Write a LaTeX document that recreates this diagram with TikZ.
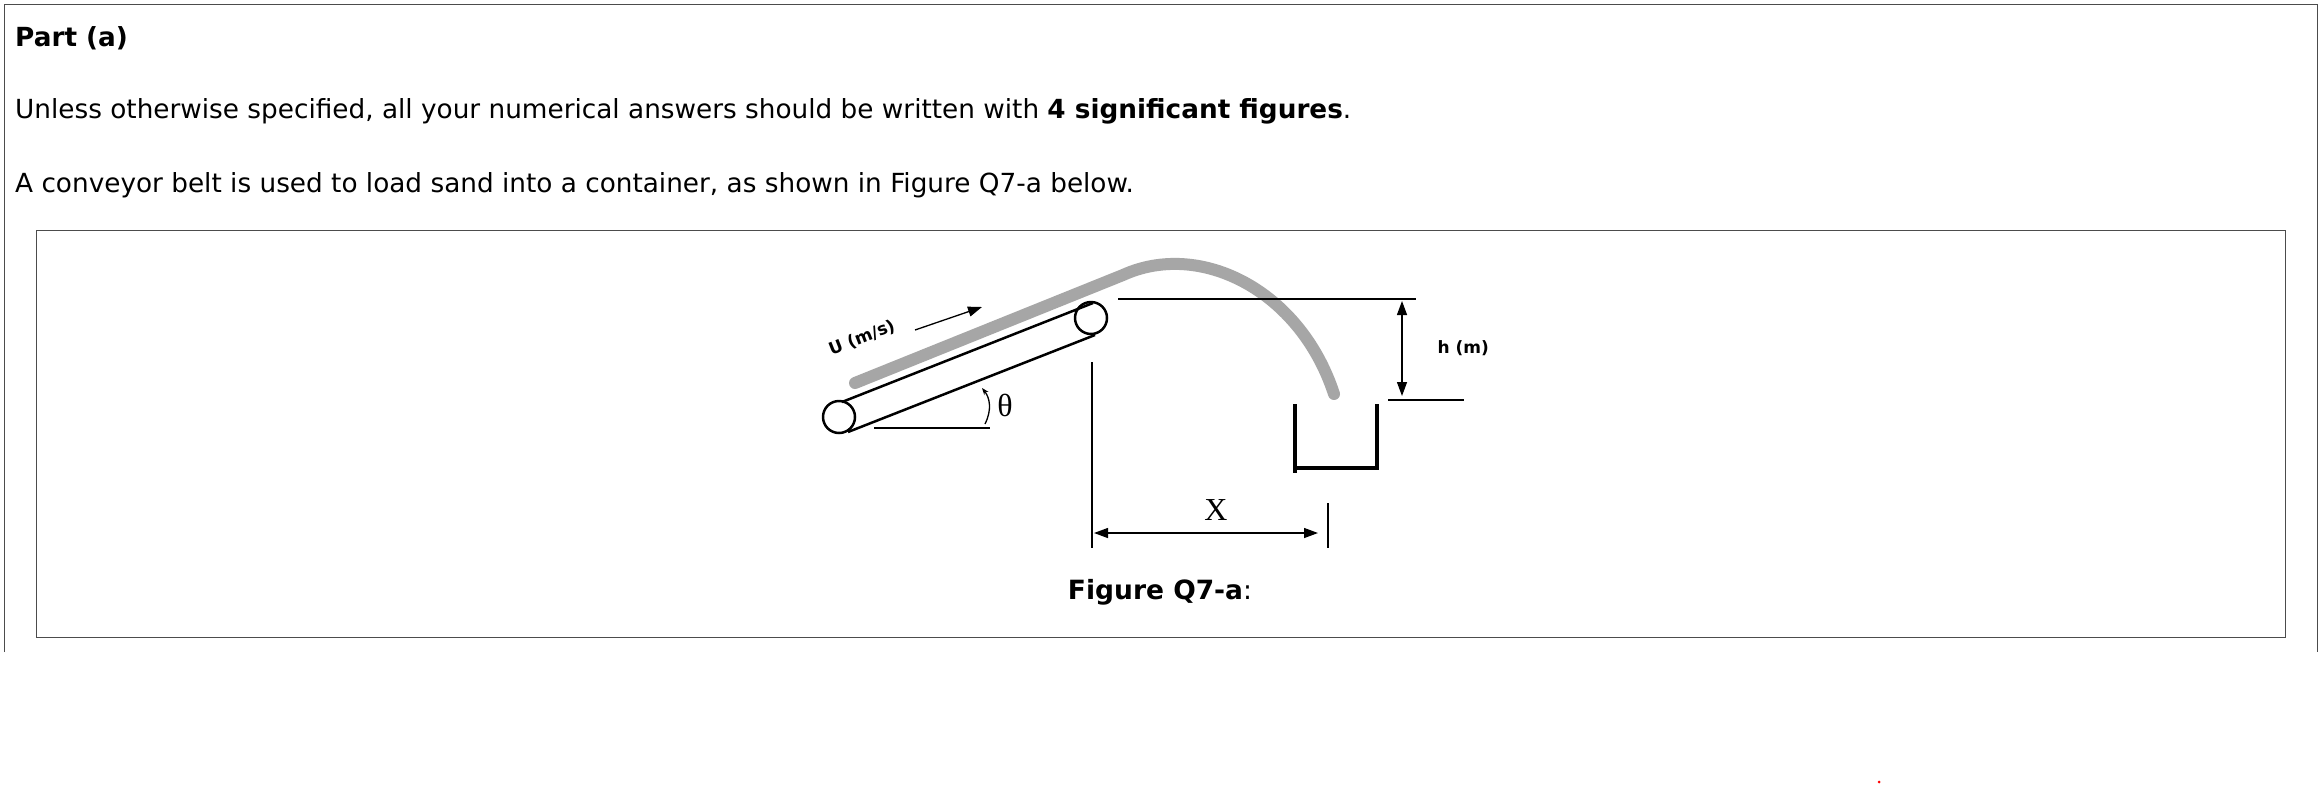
\documentclass[tikz,border=0pt]{standalone}
\usepackage{fontspec}
\setmainfont{DejaVu Sans}
\newfontfamily\serifx{Liberation Serif}
\usetikzlibrary{arrows.meta}
\begin{document}
\begin{tikzpicture}[x=1pt,y=-1pt,
  body/.style={anchor=west,inner sep=0,font=\fontsize{26.3}{30}\selectfont},
  thin/.style={line width=1.3pt},
  tip/.style={-{Triangle[length=14pt,width=10pt]}},
  dtip/.style={{Triangle[length=14pt,width=10pt]}-{Triangle[length=14pt,width=10pt]}}]
\useasboundingbox (0,0) rectangle (2324,788);
\fill[white] (0,0) rectangle (2324,788);
\draw[line width=1pt,black!70] (4,652) -- (4,4) -- (2317,4) -- (2317,652);
\node[body] (part) at (15,38) {\textbf{Part (a)}};
\node[body] (l2) at (15,111) {Unless otherwise specified, all your numerical answers should be written with \textbf{4 significant figures}.};
\node[body] (l3) at (15,185) {A conveyor belt is used to load sand into a container, as shown in Figure Q7-a below.};
\draw[line width=1pt,black!70] (36,230) rectangle (2285,637);
\fill[red] (1879,782) circle (1.5);
% belt
\draw[line width=12pt,gray!70,line cap=round] (855,383) -- (1123,275) .. controls (1200,240) and (1300,290) .. (1334,394);
\node[draw,circle,line width=2.5pt,minimum size=32pt,inner sep=0] (r1) at (839,417) {};
\node[draw,circle,line width=2.5pt,minimum size=32pt,inner sep=0] (r2) at (1091,318) {};
\draw[line width=2.5pt] (842,402) -- (1093,303);
\draw[line width=2.5pt] (848,432) -- (1095,335);
\draw[thin] (874,428) -- (990,428);
\draw[thin,-{Stealth[length=7pt]}] (985,424) .. controls (992,410) and (990,398) .. (982,388);
\node[font=\serifx\fontsize{32}{32}\selectfont] (th) at (1005,405) {θ};
\node[font=\bfseries\fontsize{17}{17}\selectfont,rotate=21.5,inner sep=1pt] (u) at (862,338) {U (m/s)};
\coordinate (ua) at (915,330); \coordinate (ub) at (982,307);
\draw[thin,tip] (ua) -- (ub);
% h
\draw[thin] (1118,299) -- (1416,299);
\draw[thin] (1388,400) -- (1464,400);
\coordinate (ha) at (1402,301); \coordinate (hb) at (1402,396);
\draw[thin,dtip] (ha) -- (hb);
\node[anchor=west,font=\bfseries\fontsize{17}{17}\selectfont] (h) at (1434,348) {h (m)};
% container
\draw[line width=4pt] (1295,404) -- (1295,473);
\draw[line width=4pt] (1295,468) -- (1377,468) -- (1377,404);
% x
\draw[thin] (1092,362) -- (1092,548);
\draw[thin] (1328,503) -- (1328,548);
\coordinate (xa) at (1094,533); \coordinate (xb) at (1318,533);
\draw[thin,dtip] (xa) -- (xb);
\node[font=\serifx\fontsize{32}{32}\selectfont] (x) at (1216,510) {X};
\node[font=\bfseries\fontsize{26.5}{26.5}\selectfont] (cap) at (1160,592) {Figure Q7-a\textmd{:}};
\end{tikzpicture}
\end{document}
